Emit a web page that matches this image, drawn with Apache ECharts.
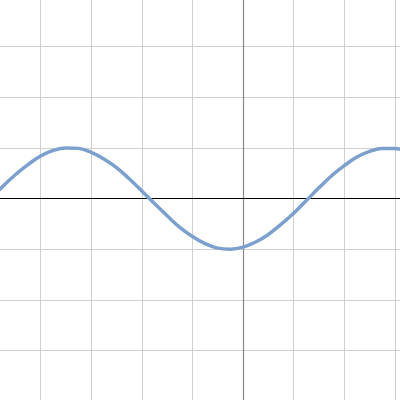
<!DOCTYPE html>
<html>
<head>
<meta charset="utf-8">
<script src="https://cdn.jsdelivr.net/npm/echarts@6/dist/echarts.min.js"></script>
<style>html,body{margin:0;padding:0;background:#fff;overflow:hidden;width:400px;height:400px}#chart{width:415px;height:405px;margin-left:-10px;margin-top:-4px}</style>
</head>
<body>
<div id="chart"></div>
<script>
// curve points
var xs = [-5, -4.8, -4.5, -4.25, -4, -3.75, -3.5, -3.25, -3, -2.75, -2.5, -2.25, -2, -1.75, -1.5, -1.25, -1, -0.75, -0.5, -0.25, 0, 0.25, 0.5, 0.75, 1, 1.25, 1.5, 1.75, 2, 2.25, 2.5, 2.75, 3, 3.2];
var ys = [-0.01, 0.19, 0.47, 0.67, 0.84, 0.95, 1.0, 0.99, 0.91, 0.78, 0.61, 0.39, 0.15, -0.10, -0.34, -0.57, -0.75, -0.89, -0.98, -1.0, -0.96, -0.86, -0.71, -0.51, -0.29, -0.04, 0.21, 0.45, 0.65, 0.82, 0.93, 0.99, 0.99, 0.94];

var points = xs.map(function (x, i) { return [x, ys[i]]; });

var myChart = echarts.init(document.getElementById('chart'));
var option = {
	animation: false,
	grid: { left: 0, right: 0, top: 0, bottom: 0 },
	xAxis: {
		type: 'value', min: -5, max: 3.2, interval: 1,
		axisLabel: { show: false }, axisTick: { show: false },
		axisLine: { onZero: true, lineStyle: { color: '#000', width: 1.2 } },
		splitLine: { lineStyle: { color: '#d0d0d0' } }
	},
	yAxis: {
		type: 'value', min: -4, max: 4, interval: 1,
		axisLabel: { show: false }, axisTick: { show: false },
		axisLine: { onZero: true, lineStyle: { color: '#888', width: 1.2 } },
		splitLine: { lineStyle: { color: '#d0d0d0' } }
	},
	series: [{
		type: 'line', data: points, smooth: 0.4, showSymbol: false,
		lineStyle: { color: '#7ba0cd', width: 3.5 }
	}]
};
myChart.setOption(option);
</script>
</body>
</html>
